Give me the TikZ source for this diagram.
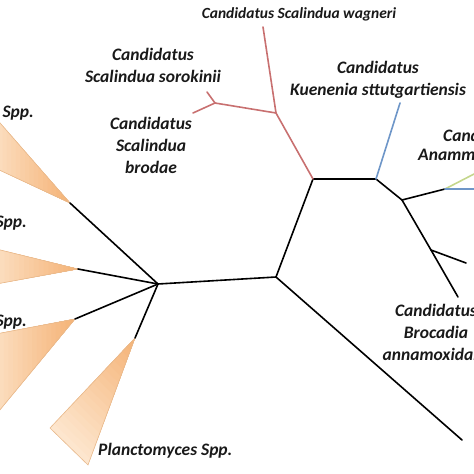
\documentclass[tikz,border=0pt]{standalone}
\usepackage{fontspec}
\setmainfont{Carlito}
\usetikzlibrary{calc}
\definecolor{tridark}{RGB}{245,180,120}
\definecolor{trilight}{RGB}{253,230,206}
\definecolor{triedge}{RGB}{232,185,140}
\definecolor{redbr}{RGB}{200,112,112}
\definecolor{bluebr}{RGB}{110,150,200}
\definecolor{greenbr}{RGB}{196,214,140}
\definecolor{txt}{RGB}{25,25,25}
\newcommand{\gradtri}[3]{%
  \foreach \i in {0,...,19}{%
    \pgfmathsetmacro\tt{1-\i/20}%
    \pgfmathsetmacro\pp{100*\i/19}%
    \fill[tridark!\pp!trilight] (#1) -- ($(#1)!\tt!(#2)$) -- ($(#1)!\tt!(#3)$) -- cycle;
  }%
  \draw[triedge, line width=0.6pt] (#1) -- (#2) -- (#3) -- cycle;
}
\begin{document}
\begin{tikzpicture}[x=1pt,y=-1pt,
  br/.style={line width=1.6pt,line cap=round},
  lab/.style={font=\fontsize{17.5}{22}\selectfont\bfseries\itshape, align=center, inner sep=0pt, text=txt},
  labsmall/.style={lab, font=\fontsize{15.5}{20}\selectfont\bfseries\itshape}]
\useasboundingbox (0,0) rectangle (474,474);
\clip (0,0) rectangle (474,474);
% tree junctions
\coordinate (H1) at (158,284);
\coordinate (H2) at (276,277);
\coordinate (N3) at (313,179);
\coordinate (N4) at (376,179);
\coordinate (N5) at (402,200);
\coordinate (N6) at (431,250);
\coordinate (A1) at (445,189);
\coordinate (R1) at (276,113);
\coordinate (R2) at (215,103);
% leaves
\coordinate (L1) at (70,203);
\coordinate (L2) at (78,269);
\coordinate (L3) at (75,319);
\coordinate (L4) at (135,338);
\coordinate (Lend) at (462,440);
\coordinate (Lwag) at (263,27);
\coordinate (Lsor) at (207,92);
\coordinate (Lbro) at (193,113);
\coordinate (Lkue) at (400,103);
\coordinate (Lgr) at (476,173);
\coordinate (Lbl) at (476,189);
\coordinate (Lbr1) at (466,263);
\coordinate (Lbr2) at (458,297);
% triangle base corners
\coordinate (T1a) at (-20,100);
\coordinate (T1b) at (-20,161);
\coordinate (T2a) at (-20,245);
\coordinate (T2b) at (-20,287);
\coordinate (T3a) at (-20,337);
\coordinate (T3b) at (-20,434);
\coordinate (T4a) at (50,428);
\coordinate (T4b) at (88,465);
% triangles (darker at the apex, lighter toward the base)
\gradtri{L1}{T1a}{T1b}
\gradtri{L2}{T2a}{T2b}
\gradtri{L3}{T3a}{T3b}
\gradtri{L4}{T4a}{T4b}
% black branches
\draw[br] (H1) -- (L1);
\draw[br] (H1) -- (L2);
\draw[br] (H1) -- (L3);
\draw[br] (H1) -- (L4);
\draw[br] (H1) -- (H2);
\draw[br] (H2) -- (N3);
\draw[br] (H2) -- (Lend);
\draw[br] (N3) -- (N4);
\draw[br] (N4) -- (N5);
\draw[br] (N5) -- (A1);
\draw[br] (N5) -- (N6);
\draw[br] (N6) -- (Lbr2);
\draw[br] (N6) -- (Lbr1);
% red clade
\draw[br, redbr] (N3) -- (R1);
\draw[br, redbr] (R1) -- (Lwag);
\draw[br, redbr] (R1) -- (R2);
\draw[br, redbr] (R2) -- (Lsor);
\draw[br, redbr] (R2) -- (Lbro);
% blue / green
\draw[br, bluebr] (N4) -- (Lkue);
\draw[br, greenbr] (A1) -- (Lgr);
\draw[br, bluebr] (A1) -- (Lbl);
% labels
\node[labsmall] (twag) at (299,14) {Candidatus Scalindua wagneri};
\node[lab] (tsor) at (153,65) {Candidatus\\Scalindua sorokinii};
\node[lab] (tbro) at (151,145) {Candidatus\\Scalindua\\brodae};
\node[lab] (tkue) at (378,80) {Candidatus\\Kuenenia sttutgartiensis};
\node[lab, anchor=west] (tana1) at (443,135) {Candidatus};
\node[lab, anchor=west] (tana2) at (418,156) {Anammoxoglobus};
\node[lab] (tbro2) at (436,332) {Candidatus\\Brocadia\\annamoxidans};
\node[lab, anchor=east] (s1) at (34,113) {Spp.};
\node[lab, anchor=east] (s2) at (27,223) {Spp.};
\node[lab, anchor=east] (s3) at (27,322) {Spp.};
\node[lab, anchor=west] (tpla) at (98,451) {Planctomyces Spp.};
\end{tikzpicture}
\end{document}
